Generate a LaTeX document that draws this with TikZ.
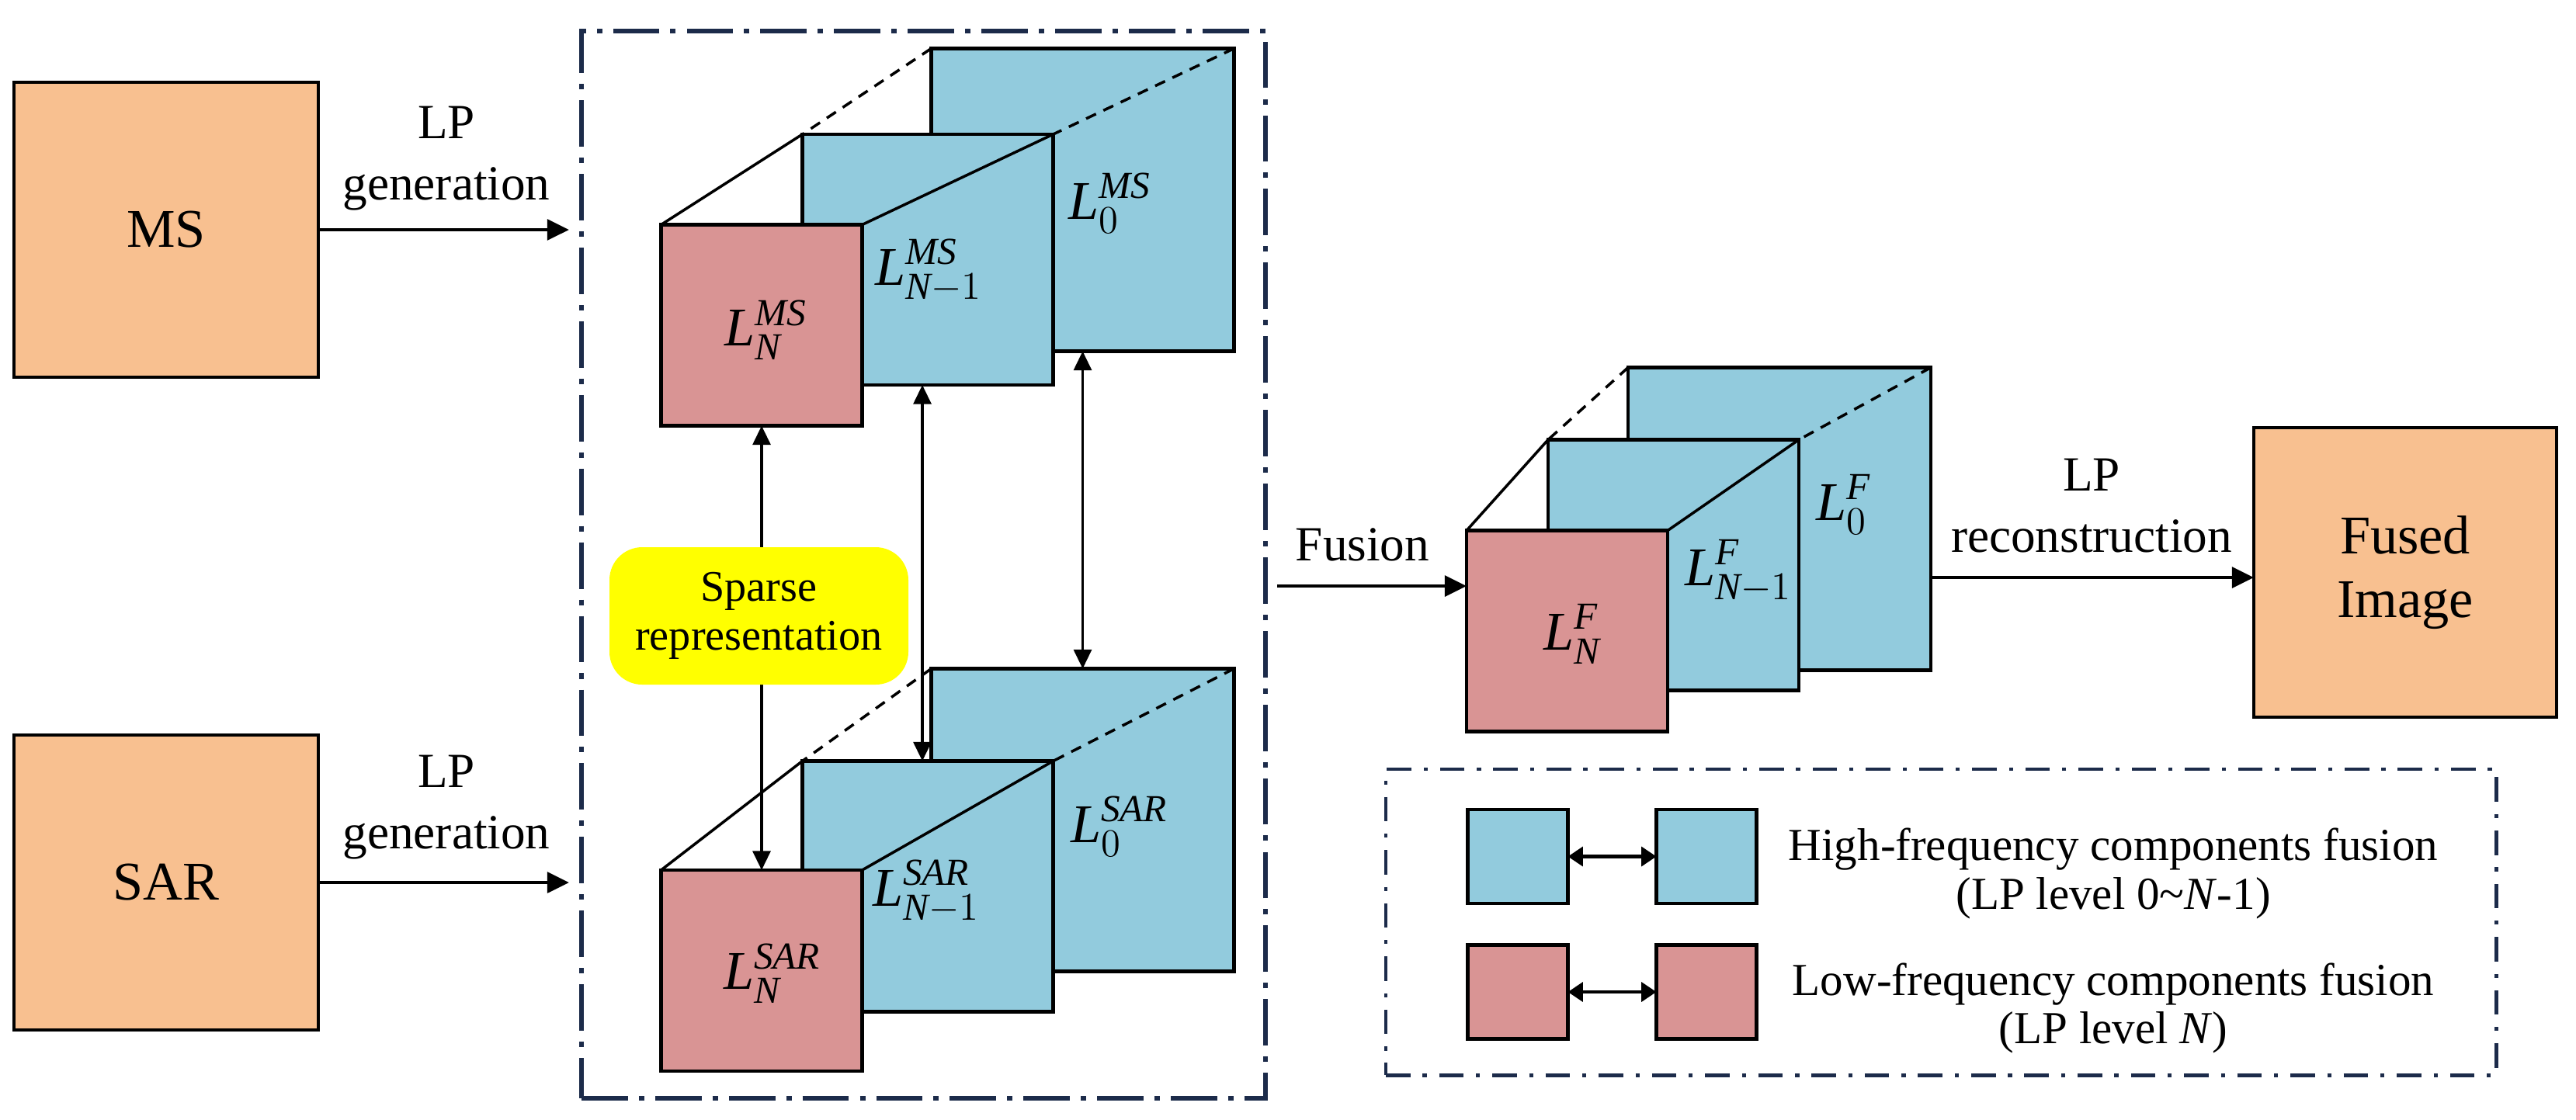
\documentclass[tikz,border=0pt]{standalone}
\usepackage{amsmath}
\usepackage{fontspec}
\setmainfont{Liberation Serif}
\usetikzlibrary{arrows.meta,calc}
\definecolor{ImgOrange}{RGB}{248,192,144}
\definecolor{HFBlue}{RGB}{146,203,221}
\definecolor{LFRed}{RGB}{217,148,148}
\definecolor{SRYellow}{RGB}{255,255,0}
\definecolor{DashNavy}{RGB}{28,43,74}
\newcommand{\lvl}[2]{$\textit{L}^{\textit{#1}}_{#2}$}
\tikzset{
  imgbox/.style={draw=black,line width=1.2pt,fill=ImgOrange,minimum width=3.92cm,minimum height=3.8cm,inner sep=0pt,outer sep=0pt,align=center,font=\fontsize{20}{23.5}\selectfont},
  hfbig/.style={draw=black,line width=1.2pt,fill=HFBlue,minimum size=3.9cm,inner sep=0pt,outer sep=0pt},
  hfmid/.style={hfbig,minimum size=3.23cm},
  lfbox/.style={draw=black,line width=1.2pt,fill=LFRed,minimum size=2.59cm,inner sep=0pt,outer sep=0pt},
  lvltext/.style={font=\fontsize{20}{24}\selectfont,inner sep=1pt},
  lbl/.style={align=center,font=\fontsize{18}{22.5}\selectfont,inner sep=1pt},
  keytext/.style={align=center,font=\fontsize{16.8}{17.8}\selectfont},
  arr/.style={-{Triangle[length=8pt,width=7.5pt]},line width=1.4pt},
  darr/.style={{Triangle[length=7pt,width=6.5pt]}-{Triangle[length=7pt,width=6.5pt]},line width=1pt},
  larr/.style={{Triangle[length=5.5pt,width=7pt]}-{Triangle[length=5.5pt,width=7pt]},line width=1.3pt},
  persp/.style={line width=1pt},
  hidden/.style={persp,dash pattern=on 4pt off 3pt},
  ddframe/.style={draw=DashNavy,line width=1.6pt,dash pattern=on 17pt off 4pt on 2pt off 4pt,inner sep=0pt},
  ddlegend/.style={draw=DashNavy,line width=1.4pt,dash pattern=on 9pt off 4.5pt on 1.5pt off 4.5pt,inner sep=0pt},
  keybox/.style={draw=black,line width=1.2pt,minimum width=1.29cm,minimum height=1.21cm,inner sep=0pt,outer sep=0pt},
}
\begin{document}
\begin{tikzpicture}[x=1cm,y=-1cm]
    \useasboundingbox (0,0) rectangle (33.18,14.42);
    %% Frames
    \node[ddframe,minimum width=8.81cm,minimum height=13.75cm] (pyrframe) at (11.895,7.275) {};
    \node[ddlegend,minimum width=14.3cm,minimum height=3.94cm] (keyframe) at (25.0,11.88) {};
    %% Source images
    \node[imgbox] (ms)  at (2.14,2.96) {MS};
    \node[imgbox] (sar) at (2.14,11.37) {SAR};
    \coordinate (msin)  at (7.33,2.96);
    \coordinate (sarin) at (7.33,11.37);
    \draw[arr] (ms)--(msin);
    \draw[arr] (sar)--(sarin);
    \node[lbl] (msgen)  at (5.75,2.04) {LP\\generation};
    \node[lbl] (sargen) at (5.75,10.40) {LP\\generation};
    %% MS pyramid
    \node[hfbig] (msback) at (13.945,2.575) {};
    \node[hfmid] (msmid)  at (11.95,3.345) {};
    \node[lfbox] (msred)  at (9.81,4.19) {};
    \draw[hidden] (msback.north west)--(msmid.north west);
    \draw[hidden] (msback.north east)--(msmid.north east);
    \draw[persp] (msmid.north west)--(msred.north west);
    \draw[persp] (msmid.north east)--(msred.north east);
    \node[lvltext] (msl0) at (14.3,2.62) {\lvl{MS}{0}};
    \node[lvltext] (msl1) at (11.96,3.49) {\lvl{MS}{\textit{N}-1}};
    \node[lvltext] (msln) at (9.87,4.25) {\lvl{MS}{\textit{N}}};
    %% SAR pyramid
    \node[hfbig] (sarback) at (13.945,10.565) {};
    \node[hfmid] (sarmid)  at (11.95,11.42) {};
    \node[lfbox] (sarred)  at (9.81,12.505) {};
    \draw[hidden] (sarback.north west)--(sarmid.north west);
    \draw[hidden] (sarback.north east)--(sarmid.north east);
    \draw[persp] (sarmid.north west)--(sarred.north west);
    \draw[persp] (sarmid.north east)--(sarred.north east);
    \node[lvltext] (sarl0) at (14.42,10.65) {\lvl{SAR}{0}};
    \node[lvltext] (sarl1) at (11.93,11.49) {\lvl{SAR}{\textit{N}-1}};
    \node[lvltext] (sarln) at (9.95,12.54) {\lvl{SAR}{\textit{N}}};
    %% Level pairs
    \draw[darr] (msred)--(sarred);
    \draw[darr] ([xshift=-0.7mm]msmid.south)--([xshift=-0.7mm]sarmid.north);
    \draw[darr] (msback.south)--(sarback.north);
    \node[fill=SRYellow,rounded corners=12pt,minimum width=3.85cm,minimum height=1.77cm,inner sep=0pt,align=center,font=\fontsize{16}{18}\selectfont] (sparse) at (9.775,7.935) {Sparse\\representation};
    %% Fused pyramid
    \node[hfbig] (fback) at (22.92,6.685) {};
    \node[hfmid] (fmid)  at (21.555,7.28) {};
    \node[lfbox] (fred)  at (20.185,8.13) {};
    \draw[hidden] (fback.north west)--(fmid.north west);
    \draw[hidden] (fback.north east)--(fmid.north east);
    \draw[persp] (fmid.north west)--(fred.north west);
    \draw[persp] (fmid.north east)--(fred.north east);
    \node[lvltext] (fl0) at (23.75,6.5) {\lvl{F}{0}};
    \node[lvltext] (fl1) at (22.39,7.36) {\lvl{F}{\textit{N}-1}};
    \node[lvltext] (fln) at (20.25,8.17) {\lvl{F}{\textit{N}}};
    \coordinate (fusein) at (16.45,7.55);
    \draw[arr] (fusein)--(fusein -| fred.west);
    \node[lbl] (fusion) at (17.55,7.02) {Fusion};
    %% Output
    \node[imgbox,minimum width=3.9cm,minimum height=3.73cm] (fused) at (30.98,7.375) {Fused\\Image};
    \coordinate (recy) at (0,7.44);
    \draw[arr] (fback.east |- recy)--(fused.west |- recy);
    \node[lbl] (recon) at (26.94,6.515) {LP\\reconstruction};
    %% Legend
    \node[keybox,fill=HFBlue] (hfa) at (19.55,11.035) {};
    \node[keybox,fill=HFBlue] (hfb) at (21.98,11.035) {};
    \node[keybox,fill=LFRed]  (lfa) at (19.55,12.78) {};
    \node[keybox,fill=LFRed]  (lfb) at (21.98,12.78) {};
    \draw[larr] (hfa)--(hfb);
    \draw[larr] (lfa)--(lfb);
    \node[keytext] (hftext) at (27.22,11.255) {High-frequency components fusion\\(LP level 0\textasciitilde\textit{N}-1)};
    \node[keytext] (lftext) at (27.22,12.99) {Low-frequency components fusion\\(LP level \textit{N})};
  \end{tikzpicture}
\end{document}
